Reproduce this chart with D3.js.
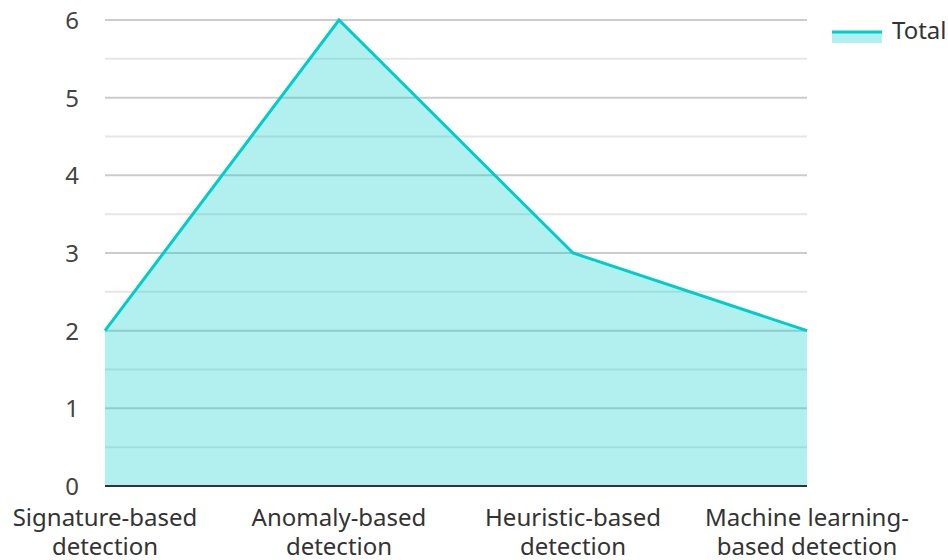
<!DOCTYPE html>
<html><head><meta charset="utf-8">
<script src="https://cdn.jsdelivr.net/npm/d3@7"></script>
<style>body{margin:0;background:#fff;font-family:"Noto Sans",sans-serif}</style>
</head><body><svg id="c" width="948" height="560"></svg>
<script>
const categories = [["Signature-based","detection"],["Anomaly-based","detection"],["Heuristic-based","detection"],["Machine learning-","based detection"]];
const values = [2, 6, 3, 2];
const yTicks = [0,1,2,3,4,5,6];
const seriesName = "Total";
const color = "#00cccc";

const svg = d3.select("#c");
const L = 105, R = 807, T = 20, B = 486;
const x = d3.scalePoint().domain(d3.range(categories.length)).range([L, R]);
const y = d3.scaleLinear().domain([0, 6]).range([B, T]);

// grid
const minor = d3.range(0.5, 6, 1);
svg.append("g").selectAll("line").data(minor).join("line")
  .attr("x1", L).attr("x2", R).attr("y1", d=>y(d)).attr("y2", d=>y(d))
  .attr("stroke", "#e6e6e6").attr("stroke-width", 2);
svg.append("g").selectAll("line").data(yTicks.filter(d=>d>0)).join("line")
  .attr("x1", L).attr("x2", R).attr("y1", d=>y(d)).attr("y2", d=>y(d))
  .attr("stroke", "#cccccc").attr("stroke-width", 2);

// area
const pts = values.map((v,i)=>[i,v]);
svg.append("path").datum(pts)
  .attr("d", d3.area().x(d=>x(d[0])).y0(y(0)).y1(d=>y(d[1])))
  .attr("fill", color).attr("fill-opacity", 0.3);
svg.append("path").datum(pts)
  .attr("d", d3.line().x(d=>x(d[0])).y(d=>y(d[1])))
  .attr("fill", "none").attr("stroke", color).attr("stroke-width", 3);

// x axis line
svg.append("line").attr("x1", L).attr("x2", R).attr("y1", B).attr("y2", B)
  .attr("stroke", "#333").attr("stroke-width", 2);

// y labels
svg.append("g").selectAll("text").data(yTicks).join("text")
  .attr("x", 79).attr("y", d=>y(d)+9).attr("text-anchor", "end")
  .attr("font-size", 24).attr("fill", "#444").text(d=>d);

// x labels
const xl = svg.append("g").selectAll("text").data(categories).join("text")
  .attr("x", (d,i)=>x(i)).attr("y", 526).attr("text-anchor", "middle")
  .attr("font-size", 24).attr("fill", "#333");
xl.each(function(d,i){
  const t = d3.select(this);
  d.forEach((line,j)=>t.append("tspan").attr("x", x(i)).attr("dy", j===0?0:29).text(line));
});

// legend
const lg = svg.append("g");
lg.append("rect").attr("x", 832).attr("y", 31).attr("width", 50).attr("height", 12)
  .attr("fill", color).attr("fill-opacity", 0.3);
lg.append("line").attr("x1", 832).attr("x2", 882).attr("y1", 32).attr("y2", 32)
  .attr("stroke", color).attr("stroke-width", 3);
lg.append("text").attr("x", 892).attr("y", 39).attr("font-size", 24).attr("fill", "#333").text(seriesName);
</script></body></html>
